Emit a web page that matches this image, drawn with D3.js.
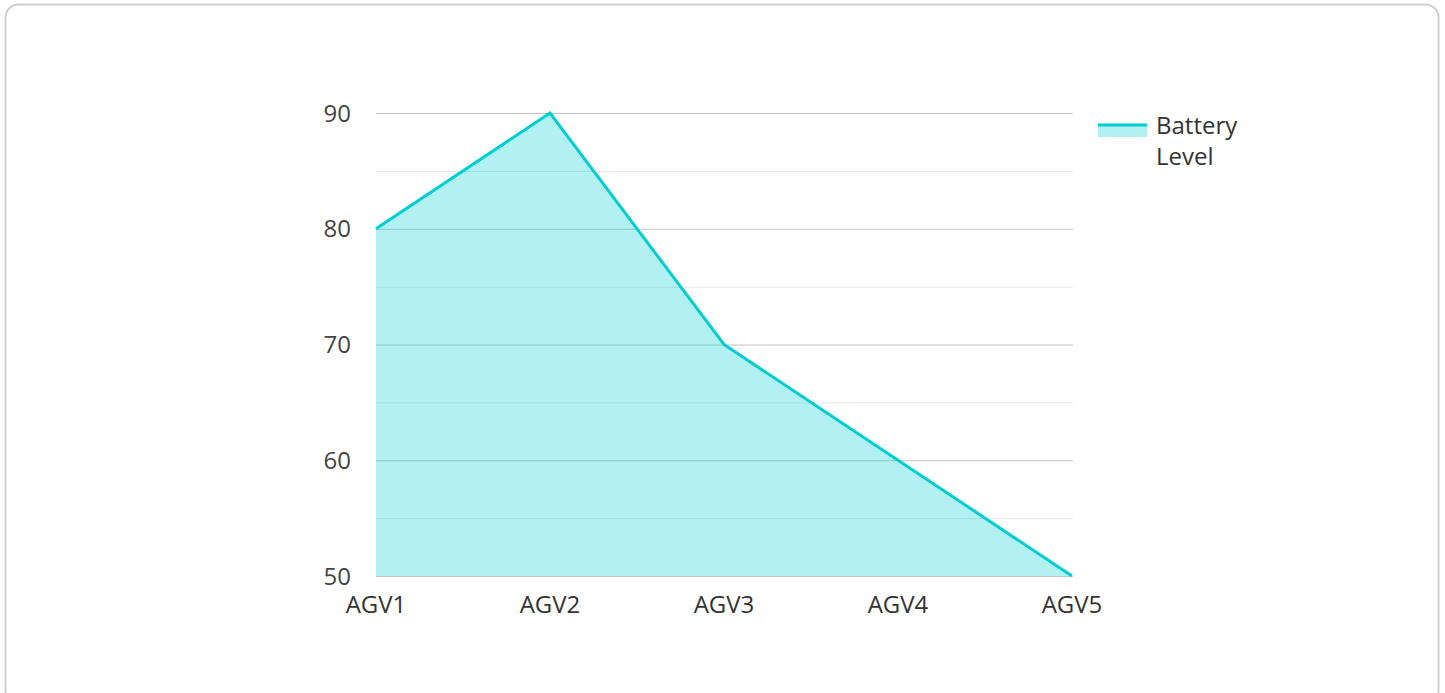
<!DOCTYPE html>
<html><head><meta charset="utf-8">
<script src="https://cdn.jsdelivr.net/npm/d3@7"></script>
<style>
html,body{margin:0;padding:0;background:#fff;}
svg{display:block;font-family:"Open Sans","Noto Sans",sans-serif;}
</style></head>
<body>
<svg id="chart" width="1445" height="693"></svg>
<script>
const categories = ["AGV1","AGV2","AGV3","AGV4","AGV5"];
const batteryLevel = [80, 90, 70, 60, 50];
const yTicks = [50, 60, 70, 80, 90];
const yMinorTicks = [55, 65, 75, 85];
const seriesName = ["Battery", "Level"];

const svg = d3.select("#chart");
svg.append("rect").attr("x",5.5).attr("y",4.5).attr("width",1433).attr("height",700)
  .attr("rx",13).attr("fill","#fff").attr("stroke","#d0d0d0").attr("stroke-width",2);

const x = d3.scalePoint().domain(categories).range([376, 1072]);
const y = d3.scaleLinear().domain([50, 90]).range([576, 113]);

const g = svg.append("g");
g.selectAll(".minor").data(yMinorTicks).join("line")
  .attr("x1",376).attr("x2",1073).attr("y1",d=>y(d)+0.5).attr("y2",d=>y(d)+0.5)
  .attr("stroke","#e6e6e6").attr("stroke-width",1);
g.selectAll(".major").data(yTicks).join("line")
  .attr("x1",376).attr("x2",1073).attr("y1",d=>y(d)+0.5).attr("y2",d=>y(d)+0.5)
  .attr("stroke","#c4c4c4").attr("stroke-width",1.2);

const data = categories.map((c,i)=>({c, v: batteryLevel[i]}));
const area = d3.area().x(d=>x(d.c)).y0(y(50)).y1(d=>y(d.v));
const line = d3.line().x(d=>x(d.c)).y(d=>y(d.v));
g.append("path").datum(data).attr("d",area).attr("fill","#00CED1").attr("fill-opacity",0.3);
g.append("path").datum(data).attr("d",line).attr("fill","none").attr("stroke","#00CED1").attr("stroke-width",3).attr("stroke-linejoin","miter");

g.selectAll(".ylab").data(yTicks).join("text")
  .attr("x",351).attr("y",d=>y(d)+8.5).attr("text-anchor","end")
  .attr("font-size",24).attr("fill","#444").text(d=>d);
g.selectAll(".xlab").data(categories).join("text")
  .attr("x",d=>x(d)).attr("y",613).attr("text-anchor","middle")
  .attr("font-size",24).attr("fill","#333").text(d=>d);

const lg = svg.append("g");
lg.append("rect").attr("x",1098).attr("y",124).attr("width",49).attr("height",13).attr("fill","#00CED1").attr("fill-opacity",0.3);
lg.append("line").attr("x1",1098).attr("x2",1147).attr("y1",125).attr("y2",125).attr("stroke","#00CED1").attr("stroke-width",3);
lg.selectAll("text").data(seriesName).join("text")
  .attr("x",1156).attr("y",(d,i)=>134+i*31)
  .attr("font-size",24).attr("fill","#333").text(d=>d);
</script>
</body></html>
